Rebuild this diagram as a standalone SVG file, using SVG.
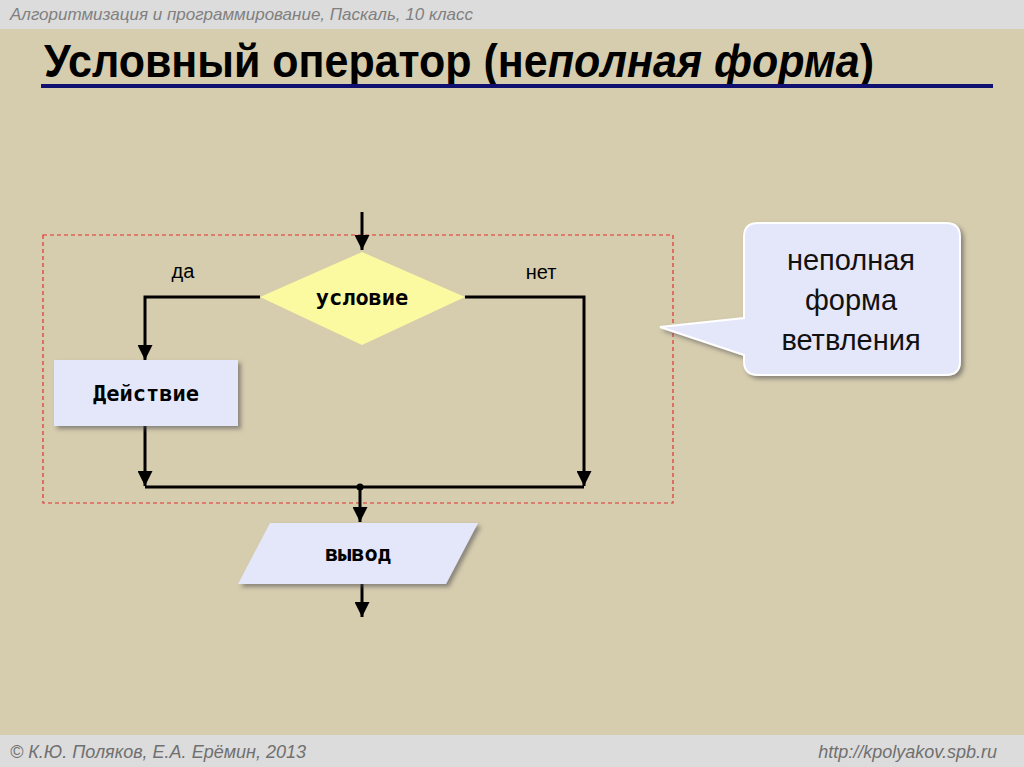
<svg xmlns="http://www.w3.org/2000/svg" width="1024" height="767" viewBox="0 0 1024 767">
<defs>
<marker id="ar" viewBox="0 0 10 10" refX="10" refY="5" markerWidth="5" markerHeight="5" orient="auto" markerUnits="strokeWidth"><path d="M0,0 L10,5 L0,10 z" fill="#000"/></marker>
<filter id="sh" x="-10%" y="-10%" width="130%" height="130%"><feDropShadow dx="3" dy="3" stdDeviation="2" flood-color="#555" flood-opacity="0.6"/></filter>
</defs>
<style>
.ln{stroke:#000;stroke-width:3;fill:none}
.mono{font-family:"DejaVu Sans Mono","Liberation Mono",monospace;font-weight:bold;font-size:22px;fill:#000}
.sans{font-family:"Liberation Sans",Arial,sans-serif}
</style>
<rect width="1024" height="767" fill="#d6ccae"/>
<rect width="1024" height="29" fill="#dcdcdc"/>
<text x="10" y="20" class="sans" font-size="17" font-style="italic" fill="#808080">Алгоритмизация и программирование, Паскаль, 10 класс</text>
<text x="44" y="77" class="sans" font-size="46" font-weight="bold" fill="#000" textLength="830" lengthAdjust="spacingAndGlyphs">Условный оператор (не<tspan font-style="italic">полная форма</tspan>)</text>
<rect x="41" y="84" width="952" height="4" fill="#101070"/>
<rect x="0" y="735" width="1024" height="32" fill="#dcdcdc"/>
<text x="10" y="758" class="sans" font-size="18" font-style="italic" fill="#707070">© К.Ю. Поляков, Е.А. Ерёмин, 2013</text>
<text x="997" y="758" class="sans" font-size="18" font-style="italic" fill="#707070" text-anchor="end">http://kpolyakov.spb.ru</text>
<rect id="frame" x="43" y="235" width="630" height="268" fill="none" stroke="#e03030" stroke-width="1.2" stroke-dasharray="4,3"/>
<g id="connectors">
<path class="ln" d="M362,212 V250" marker-end="url(#ar)"/>
<path class="ln" d="M260,297 H145 V360" marker-end="url(#ar)"/>
<path class="ln" d="M145,426 V486" marker-end="url(#ar)"/>
<path class="ln" d="M465,297 H584 V486" marker-end="url(#ar)"/>
<path class="ln" d="M145,487 H584"/>
<circle cx="360" cy="487" r="3.5" fill="#000"/>
<path class="ln" d="M360,487 V522" marker-end="url(#ar)"/>
<path class="ln" d="M362,584 V617" marker-end="url(#ar)"/>
</g>
<g id="cond"><polygon points="362,252 465,297 362,345 260,297" fill="#fbfaa0"/><text x="362" y="305" class="mono" text-anchor="middle">условие</text></g>
<text x="183" y="278" class="sans" font-size="20" text-anchor="middle">да</text>
<text x="541" y="279" class="sans" font-size="20" text-anchor="middle">нет</text>
<g id="action"><rect x="54" y="360" width="184" height="66" fill="#e4e6fa" filter="url(#sh)"/><text x="146" y="401" class="mono" text-anchor="middle">Действие</text></g>
<g id="output"><polygon points="270,523 478,523 446,584 238,584" fill="#e4e6fa" filter="url(#sh)"/><text x="358" y="561" class="mono" text-anchor="middle">вывод</text></g>
<g id="callout">
<path d="M758,223 H946 Q960,223 960,237 V361 Q960,375 946,375 H758 Q744,375 744,361 V355 L660,327 L744,318 V237 Q744,223 758,223 Z" fill="#e4e6fa" stroke="#fff" stroke-width="2" filter="url(#sh)"/>
<text class="sans" font-size="29" text-anchor="middle" fill="#111"><tspan x="851" y="270">неполная</tspan><tspan x="851" y="310">форма</tspan><tspan x="851" y="350">ветвления</tspan></text>
</g>
</svg>
